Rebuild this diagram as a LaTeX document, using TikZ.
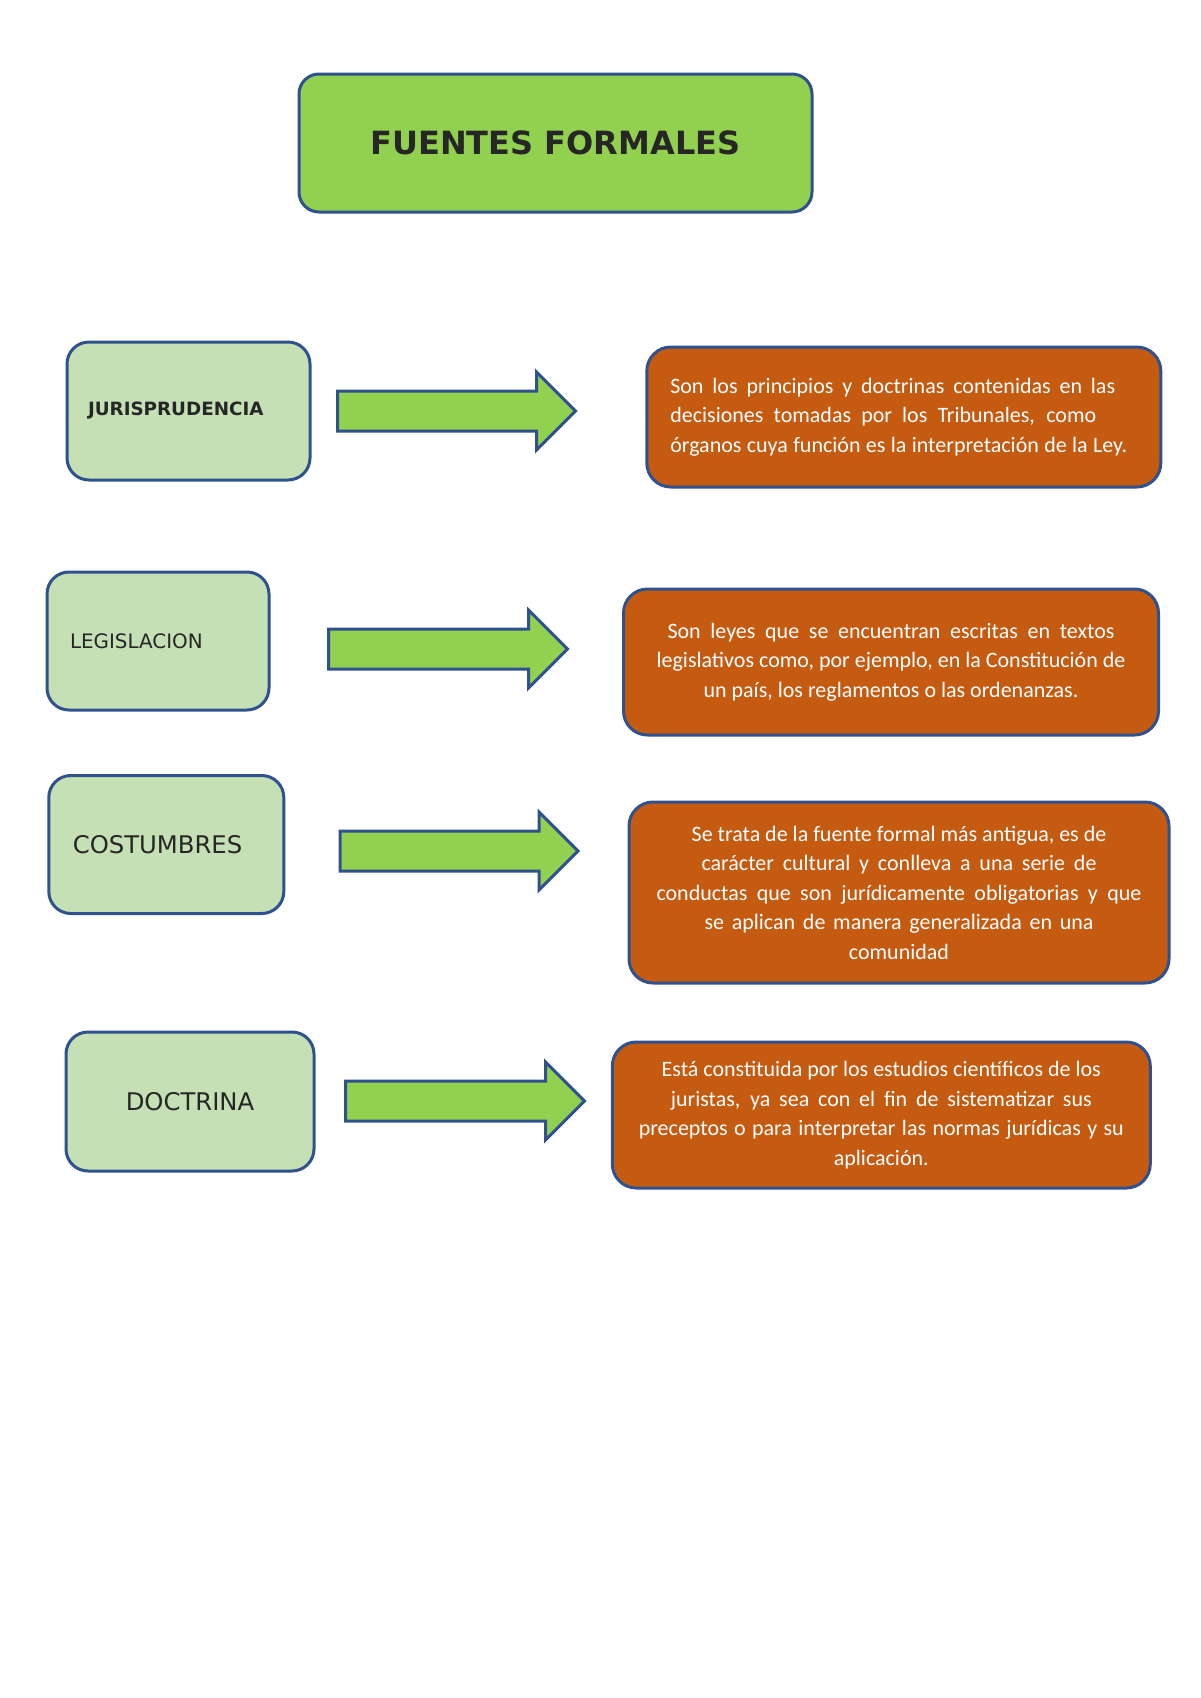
\documentclass[tikz,border=0pt]{standalone}
\usepackage{fontspec}
\setmainfont{Carlito}
\newfontfamily\boxfont{DejaVu Sans}
\usetikzlibrary{shapes.arrows}
\definecolor{titlegreen}{RGB}{146,208,80}
\definecolor{palegreen}{RGB}{197,224,180}
\definecolor{rustorange}{RGB}{197,90,17}
\definecolor{outlineblue}{RGB}{47,82,143}
\definecolor{labelgray}{RGB}{38,38,38}
% a justified line of given width
\newcommand{\fitline}[2]{\makebox[#1pt][s]{\spaceskip=0pt\xspaceskip=0pt #2}}

\begin{document}
\begin{tikzpicture}[
    x=1pt, y=-1pt,
    titlebox/.style={rectangle, draw=outlineblue, line width=3pt, fill=titlegreen, rounded corners=20pt, minimum width=513pt, minimum height=138pt, text=labelgray, font=\boxfont\bfseries\fontsize{32}{38}\selectfont},
    sourcebox/.style={rectangle, draw=outlineblue, line width=3pt, fill=palegreen, rounded corners=22pt, minimum height=138pt, text=labelgray, font=\boxfont\fontsize{24.3}{29}\selectfont},
    descbox/.style={rectangle, draw=outlineblue, line width=3pt, fill=rustorange, rounded corners=24pt, text=white, align=center, font=\fontsize{22}{29.5}\selectfont},
    bigarrow/.style={single arrow, anchor=tail, draw=outlineblue, line width=3pt, fill=titlegreen, single arrow head extend=19pt, inner sep=0pt, text height=18.5pt, text depth=18.5pt, text width=0pt}
]
\useasboundingbox (0,0) rectangle (1200,1698);

\node[titlebox] (title) at (555.5,143) {FUENTES FORMALES};

% left column
\node[sourcebox, minimum width=243pt, text width=201pt, inner xsep=21pt, align=left, font=\boxfont\bfseries\fontsize{18.3}{22}\selectfont] (juris) at (188.5,411) {JURISPRUDENCIA};
\node[sourcebox, minimum width=222pt, text width=176pt, inner xsep=23pt, align=left, font=\boxfont\fontsize{19.9}{24}\selectfont] (legis) at (158,641) {LEGISLACION};
\node[sourcebox, minimum width=235pt, text width=187pt, inner xsep=24pt, align=left] (costum) at (166.3,844.5) {COSTUMBRES};
\node[sourcebox, minimum width=248pt, minimum height=139pt] (doctr) at (190,1101.5) {DOCTRINA};

% arrows
\node[bigarrow, minimum height=238pt] (arrowjuris) at (336,411) {};
\node[bigarrow, minimum height=239pt] (arrowlegis) at (327,649) {};
\node[bigarrow, minimum height=238pt] (arrowcostum) at (338.5,851) {};
\node[bigarrow, minimum height=239pt] (arrowdoctr) at (344,1101) {};

% right column
\node[descbox, minimum width=514pt, minimum height=140pt, text width=467pt, inner xsep=23.5pt, align=left] (descjuris) at (903.8,417) {\fitline{445}{Son los principios y doctrinas contenidas en las}\\
\fitline{426}{decisiones tomadas por los Tribunales, como}\\
\fitline{457}{órganos cuya función es la interpretación de la Ley.}};
\node[descbox, minimum width=535pt, minimum height=146pt] (desclegis) at (891,662) {\fitline{447}{Son leyes que se encuentran escritas en textos}\\
legislativos como, por ejemplo, en la Constitución de\\
un país, los reglamentos o las ordenanzas.};
\node[descbox, minimum width=540pt, minimum height=181pt] (desccostum) at (899,892.5) {Se trata de la fuente formal más antigua, es de\\
\fitline{395}{carácter cultural y conlleva a una serie de}\\
\fitline{485}{conductas que son jurídicamente obligatorias y que}\\
\fitline{389}{se aplican de manera generalizada en una}\\
comunidad};
\node[descbox, minimum width=538pt, minimum height=146pt] (descdoctr) at (881.3,1115) {Está constituida por los estudios científicos de los\\
\fitline{421}{juristas, ya sea con el fin de sistematizar sus}\\
\fitline{485}{preceptos o para interpretar las normas jurídicas y su}\\
aplicación.};

\end{tikzpicture}
\end{document}
